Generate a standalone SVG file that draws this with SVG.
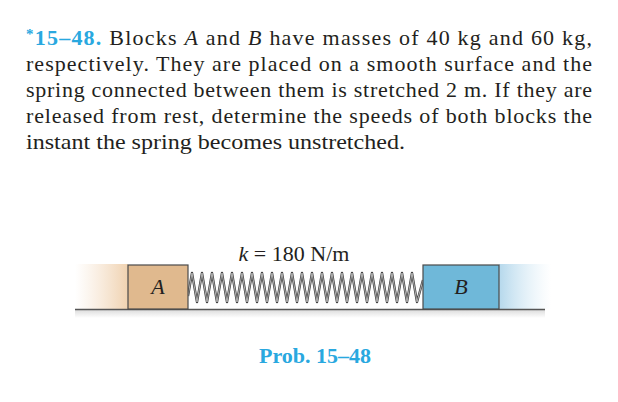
<svg xmlns="http://www.w3.org/2000/svg" width="618" height="402" viewBox="0 0 618 402">
<style>
.t{font-family:"Liberation Serif",serif;font-size:22px;fill:#231f20}
.i{font-style:italic}
.c{fill:#29a8df;font-weight:bold}
.blk{stroke:#4a4a4a;stroke-width:1.2}
</style>
<defs>
<linearGradient id="gl" x1="0" x2="1"><stop offset="0" stop-color="#f3dcc4" stop-opacity="0"/><stop offset="1" stop-color="#f0d2b0"/></linearGradient>
<linearGradient id="gr" x1="0" x2="1"><stop offset="0" stop-color="#b5d8ec"/><stop offset="1" stop-color="#d6eaf5" stop-opacity="0"/></linearGradient>
<linearGradient id="gg" x1="0" y1="0" x2="0" y2="1"><stop offset="0" stop-color="#ddd"/><stop offset="1" stop-color="#fff"/></linearGradient>
</defs>
<rect width="618" height="402" fill="#fff"/>
<g id="text">
<text class="t" x="26" y="45" textLength="566" lengthAdjust="spacing"><tspan class="c" font-size="15" dy="-6">*</tspan><tspan class="c" dy="6">15–48.</tspan>  Blocks <tspan class="i">A</tspan> and <tspan class="i">B</tspan> have masses of 40 kg and 60 kg,</text>
<text class="t" x="26" y="71" textLength="566" lengthAdjust="spacing">respectively. They are placed on a smooth surface and the</text>
<text class="t" x="26" y="97" textLength="566" lengthAdjust="spacing">spring connected between them is stretched 2 m. If they are</text>
<text class="t" x="26" y="123" textLength="566" lengthAdjust="spacing">released from rest, determine the speeds of both blocks the</text>
<text class="t" x="26" y="149" textLength="379" lengthAdjust="spacingAndGlyphs">instant the spring becomes unstretched.</text>
</g>
<g id="ground">
<rect x="75" y="264" width="53" height="45" fill="url(#gl)"/>
<rect x="499" y="264" width="52" height="45" fill="url(#gr)"/>
<rect x="75" y="310" width="470" height="8" fill="url(#gg)"/>
<line x1="75" y1="309.5" x2="545" y2="309.5" stroke="#555" stroke-width="1.3"/>
</g>
<g id="spring">
<path d="M188 296 L192 273 L197 302 L202 273 L207 302 L212 273 L217 302 L222 273 L227 302 L232 273 L237 302 L242 273 L247 302 L252 273 L257 302 L262 273 L267 302 L272 273 L277 302 L282 273 L287 302 L292 273 L297 302 L302 273 L307 302 L312 273 L317 302 L322 273 L327 302 L332 273 L337 302 L342 273 L347 302 L352 273 L357 302 L362 273 L367 302 L372 273 L377 302 L382 273 L387 302 L392 273 L397 302 L402 273 L407 302 L412 273 L417 302 L423 280" fill="none" stroke="#444" stroke-width="2.4" stroke-linejoin="round"/>
<path d="M188 296 L192 273 L197 302 L202 273 L207 302 L212 273 L217 302 L222 273 L227 302 L232 273 L237 302 L242 273 L247 302 L252 273 L257 302 L262 273 L267 302 L272 273 L277 302 L282 273 L287 302 L292 273 L297 302 L302 273 L307 302 L312 273 L317 302 L322 273 L327 302 L332 273 L337 302 L342 273 L347 302 L352 273 L357 302 L362 273 L367 302 L372 273 L377 302 L382 273 L387 302 L392 273 L397 302 L402 273 L407 302 L412 273 L417 302 L423 280" fill="none" stroke="#ccc" stroke-width="0.8"/>
</g>
<g id="blockA"><rect class="blk" x="128" y="265" width="60" height="44" fill="#e0b98e"/><text class="t i" x="158" y="294" text-anchor="middle" font-size="17">A</text></g>
<g id="blockB"><rect class="blk" x="423" y="265" width="76" height="44" fill="#6fb8d9"/><text class="t i" x="461" y="294" text-anchor="middle" font-size="17">B</text></g>
<text class="t" x="294" y="261" text-anchor="middle" font-size="18"><tspan class="i">k</tspan> = 180 N/m</text>
<text class="t c" x="315" y="363" text-anchor="middle" font-size="20">Prob. 15–48</text>
</svg>
